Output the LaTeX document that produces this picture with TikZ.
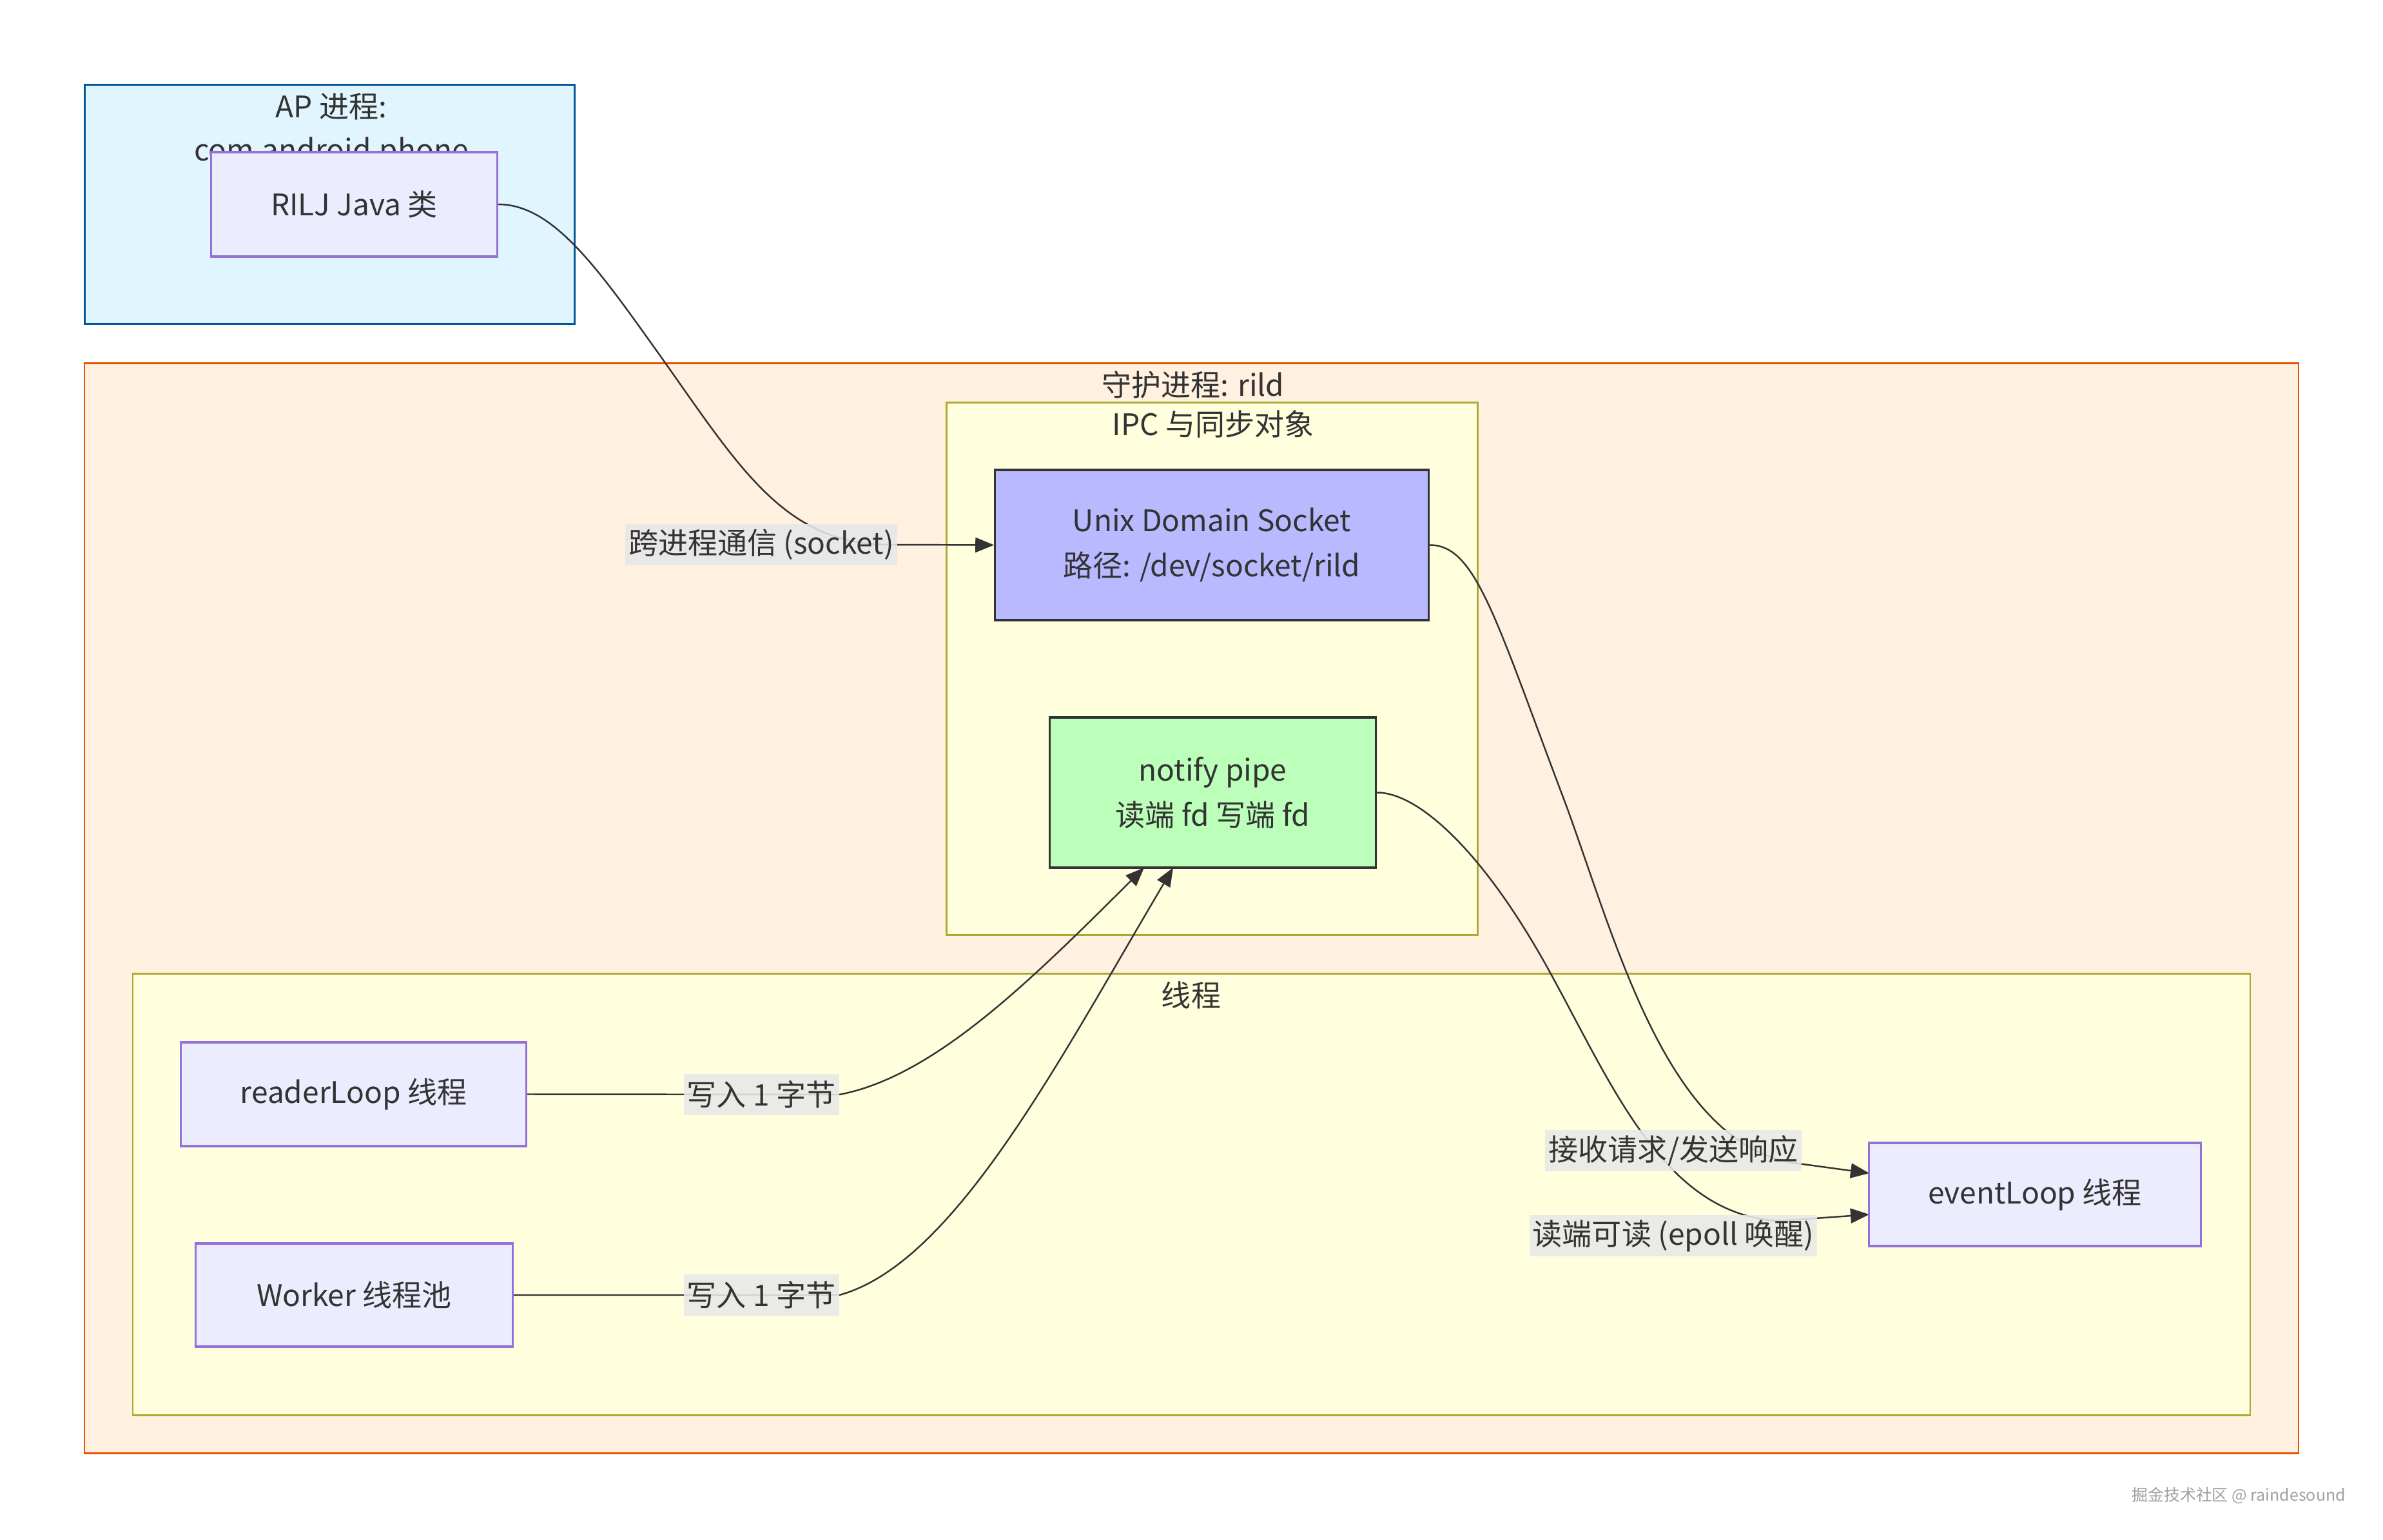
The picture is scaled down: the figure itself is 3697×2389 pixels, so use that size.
\documentclass[tikz,border=0pt]{standalone}
\usepackage{fontspec}
\setmainfont{Noto Sans CJK SC}
\usetikzlibrary{arrows.meta}
\pgfdeclarelayer{background}
\pgfdeclarelayer{edges}
\pgfsetlayers{background,edges,main}
\definecolor{txt}{HTML}{333333}
\definecolor{apfill}{HTML}{E1F5FE}
\definecolor{apdraw}{HTML}{01579B}
\definecolor{rildfill}{HTML}{FFF0E0}
\definecolor{rilddraw}{HTML}{E65100}
\definecolor{grpfill}{HTML}{FFFFDE}
\definecolor{grpdraw}{HTML}{AAAA33}
\definecolor{nfill}{HTML}{ECECFF}
\definecolor{ndraw}{HTML}{9370DB}
\definecolor{sockfill}{HTML}{B9B9FF}
\definecolor{pipefill}{HTML}{BBFFBB}
\definecolor{lblbg}{HTML}{E8E8E8}
\definecolor{wm}{HTML}{A0A0A0}
\begin{document}
\begin{tikzpicture}[x=0.01cm,y=-0.01cm,
  font=\fontsize{13.1pt}{20pt}\selectfont, text=txt,
  grpbox/.style={draw, rectangle, line width=0.8pt, inner sep=0pt},
  nbox/.style={draw=ndraw, fill=nfill, rectangle, line width=0.9pt, inner sep=0pt, align=center},
  dbox/.style={draw=txt, rectangle, line width=0.9pt, inner sep=0pt, align=center},
  elbl/.style={fill=lblbg, fill opacity=0.88, text opacity=1, inner xsep=1.5pt, inner ysep=0pt, minimum height=0.64cm},
  conn/.style={draw=txt, line width=0.7pt, -{Triangle[length=0.29cm,width=0.23cm]}},
  grplbl/.style={inner sep=0pt}]
\useasboundingbox (0,0) rectangle (3697,2389);

\begin{pgfonlayer}{background}
\fill[white] (0,0) rectangle (3697,2389);
\node[grpbox, draw=apdraw, fill=apfill, minimum width=7.59cm, minimum height=3.70cm] (ap) at (511.5,317) {};
\node[grplbl] (aplbl1) at (514,165) {AP 进程:};
\node[grplbl] (aplbl2) at (514,236) {com.android.phone};
\node[grpbox, draw=rilddraw, fill=rildfill, minimum width=34.33cm, minimum height=16.90cm] (rild) at (1848.5,1409) {};
\node[grplbl] (rildlbl) at (1851,597) {守护进程: rild};
\node[grpbox, draw=grpdraw, fill=grpfill, minimum width=8.23cm, minimum height=8.25cm] (ipc) at (1880.5,1037.5) {};
\node[grplbl] (ipclbl) at (1882,658) {IPC 与同步对象};
\node[grpbox, draw=grpdraw, fill=grpfill, minimum width=32.83cm, minimum height=6.84cm] (thr) at (1848.5,1853) {};
\node[grplbl] (thrlbl) at (1848,1544) {线程};
\end{pgfonlayer}

% nodes
\node[nbox, minimum width=4.43cm, minimum height=1.62cm] (rilj) at (549.5,317) {RILJ Java 类};
\node[dbox, fill=sockfill, minimum width=6.72cm, minimum height=2.33cm] (sock) at (1880,845.5) {Unix Domain Socket\\路径: /dev/socket/rild};
\node[dbox, fill=pipefill, minimum width=5.05cm, minimum height=2.33cm] (pipe) at (1881.5,1229.5) {notify pipe\\读端 fd 写端 fd};
\node[nbox, minimum width=5.35cm, minimum height=1.61cm] (rl) at (548.5,1697.5) {readerLoop 线程};
\node[nbox, minimum width=4.91cm, minimum height=1.60cm] (wk) at (549.5,2009) {Worker 线程池};
\node[nbox, minimum width=5.14cm, minimum height=1.60cm] (ev) at (3157,1853) {eventLoop 线程};

\coordinate (pin1) at (1775,1346);
\coordinate (pin2) at (1820,1346);
\coordinate (evin1) at (2900,1820);
\coordinate (evin2) at (2900,1884);

% edge labels
\node[elbl] (l1) at (1181,845) {跨进程通信 (socket)};
\node[elbl] (l2) at (1181,1698) {写入 1 字节};
\node[elbl] (l3) at (1181,2009) {写入 1 字节};
\node[elbl] (l4) at (2596,1785) {接收请求/发送响应};
\node[elbl] (l5) at (2596,1917) {读端可读 (epoll 唤醒)};

\begin{pgfonlayer}{edges}
\draw[conn] (rilj.east) .. controls (860,317) and (930,420) .. (1030,560)
  .. controls (1150,730) and (1220,845) .. (1380,845) -- (sock.west);
\draw[conn] (sock.east) .. controls (2290,845) and (2320,960) .. (2430,1250)
  .. controls (2510,1470) and (2590,1780) .. (2790,1805) -- (evin1);
\draw[conn] (pipe.east) .. controls (2200,1229) and (2300,1320) .. (2400,1500)
  .. controls (2500,1680) and (2580,1885) .. (2760,1894) -- (evin2);
\draw[conn] (rl.east) -- (l2.east) .. controls (1450,1670) and (1600,1520) .. (pin1);
\draw[conn] (wk.east) -- (l3.east) .. controls (1480,1960) and (1640,1650) .. (pin2);
\end{pgfonlayer}

\node[text=wm, font=\fontsize{7.1pt}{9pt}\selectfont] (wmark) at (3473,2320) {掘金技术社区 @ raindesound};
\end{tikzpicture}
\end{document}
